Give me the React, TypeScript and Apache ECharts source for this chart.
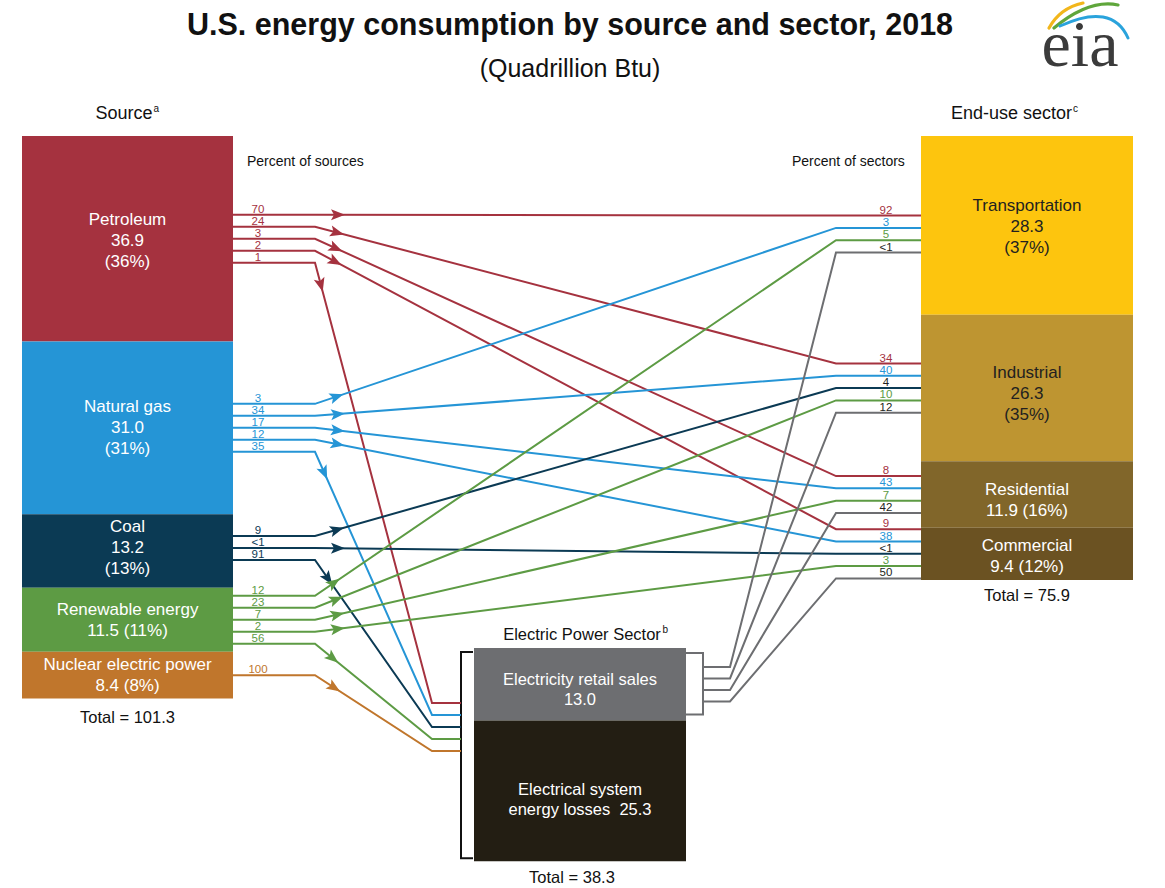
import { useEffect, useRef } from "react";
import * as echarts from "echarts";

// ---------------- data ----------------
const sources = ["Petroleum", "Natural gas", "Coal", "Renewable energy", "Nuclear electric power"];
const sourceValues = [36.9, 31.0, 13.2, 11.5, 8.4];
const sourceShares = [36, 31, 13, 11, 8];
const sourceColors = ["#a5323f", "#2595d6", "#0b3a54", "#5d9b44", "#c0762c"];
const sourceLabelColors = ["#a5323f", "#2595d6", "#0b3a54", "#5d9b44", "#c0762c"];
const sourceTotal = 101.3;

const sectors = ["Transportation", "Industrial", "Residential", "Commercial"];
const sectorValues = [28.3, 26.3, 11.9, 9.4];
const sectorShares = [37, 35, 16, 12];
const sectorColors = ["#fdc50e", "#be9531", "#81662a", "#6b5222"];
const sectorTextColors = ["#231f20", "#231f20", "#ffffff", "#ffffff"];
const sectorTotal = 75.9;

const electricParts = ["Electricity retail sales", "Electrical system\nenergy losses "];
const electricValues = [13.0, 25.3];
const electricColors = ["#6d6e71", "#231e13"];
const electricTotal = 38.3;
const ELECTRIC = "Electric power sector";
const electricLineColor = "#6d6e71";

// [from, to, percent of source, percent of sector]
const flows: [string, string, string, string][] = [
  ["Petroleum", "Transportation", "70", "92"],
  ["Petroleum", "Industrial", "24", "34"],
  ["Petroleum", "Residential", "3", "8"],
  ["Petroleum", "Commercial", "2", "9"],
  ["Petroleum", ELECTRIC, "1", ""],
  ["Natural gas", "Transportation", "3", "3"],
  ["Natural gas", "Industrial", "34", "40"],
  ["Natural gas", "Residential", "17", "43"],
  ["Natural gas", "Commercial", "12", "38"],
  ["Natural gas", ELECTRIC, "35", ""],
  ["Coal", "Industrial", "9", "4"],
  ["Coal", "Commercial", "<1", "<1"],
  ["Coal", ELECTRIC, "91", ""],
  ["Renewable energy", "Transportation", "12", "5"],
  ["Renewable energy", "Industrial", "23", "10"],
  ["Renewable energy", "Residential", "7", "7"],
  ["Renewable energy", "Commercial", "2", "3"],
  ["Renewable energy", ELECTRIC, "56", ""],
  ["Nuclear electric power", ELECTRIC, "100", ""],
  [ELECTRIC, "Transportation", "", "<1"],
  [ELECTRIC, "Industrial", "", "12"],
  [ELECTRIC, "Residential", "", "42"],
  [ELECTRIC, "Commercial", "", "50"],
];

const titleText = "U.S. energy consumption by source and sector, 2018";
const subtitleText = "(Quadrillion Btu)";

// ---------------- layout ----------------
const W = 1165;
const H = 888;
const SCALE = 5.57;
const SRC_X0 = 22, SRC_X1 = 233, PANEL_TOP = 136;
const SEC_X0 = 921, SEC_X1 = 1133, SEC_BOTTOM = 580;
const EL_X0 = 474, EL_X1 = 686, EL_TOP = 648;
const BEND_L = 315, BEND_R = 836, EL_IN_BEND = 432, EL_IN_X = 461, EL_OUT_X = 703, EL_OUT_BEND = 730;
const GAP_L = 12, GAP_R = 12.3, GAP_EL_IN = 12, GAP_EL_OUT = 11.5, EL_IN_CENTER = 727;
const ARROW_DIST = 30, ARROW_LEN = 14, ARROW_HALF = 5.5;
const LABEL_L_X = 258, LABEL_R_X = 886;
const SRC_TEXT_SHIFT = [2, 0, -3, 0, 0];
const SEC_TEXT_SHIFT = [1, 5, 5, 2];
const SRC_LINE_SHIFT = [0, 0, -3, 0, 0];
const SEC_LINE_SHIFT = [-2, 0, 0, 0];

const FONT = "'Liberation Sans', Arial, Helvetica, sans-serif";
const font = (size: number, weight = "normal") => `${weight} ${size}px ${FONT}`;

type Pt = [number, number];

function buildScene() {
  const els: any[] = [];
  const text = (x: number, y: number, t: string, opts: any = {}) =>
    els.push({ kind: "text", x, y, text: t, fill: opts.fill || "#111111", font: opts.font || font(16.5), align: opts.align || "center", lineHeight: opts.lineHeight || 20 });

  // title
  text(570, 24, titleText, { font: font(30.5, "bold"), fill: "#111111" });
  text(570, 68, subtitleText, { font: font(25), fill: "#111111" });

  // logo
  els.push({ kind: "curve", p0: [1049, 28], cp: [1060, 8], p1: [1083, 3], stroke: "#f2b61b", width: 3.2 });
  els.push({ kind: "curve", p0: [1054, 28], cp: [1089, -1], p1: [1118, 5], stroke: "#5fa63b", width: 3.2 });
  els.push({ kind: "curve", p0: [1060, 26], cp: [1112, 2], p1: [1128, 38], stroke: "#2aa3dc", width: 3 });
  els.push({ kind: "text", x: 1080, y: 43, text: "eia", fill: "#3b3b3b", font: `normal 66px 'Liberation Serif', 'DejaVu Serif', serif`, align: "center", lineHeight: 70 });

  // headers
  text(152.5, 113, "Source", { font: font(18), align: "right" });
  text(153.5, 108, "a", { font: font(10), align: "left" });
  text(1072, 113, "End-use sector", { font: font(18), align: "right" });
  text(1073, 108, "c", { font: font(10), align: "left" });
  text(247, 161, "Percent of sources", { font: font(14), align: "left" });
  text(792, 161, "Percent of sectors", { font: font(14), align: "left" });

  // source boxes
  const srcCenter: Record<string, number> = {};
  let y = PANEL_TOP;
  sources.forEach((name, i) => {
    const h = sourceValues[i] * SCALE;
    els.push({ kind: "rect", x0: SRC_X0, y0: y, x1: SRC_X1, y1: y + h, fill: sourceColors[i] });
    const v = sourceValues[i].toFixed(1);
    const label = h >= 70 ? `${name}\n${v}\n(${sourceShares[i]}%)` : `${name}\n${v} (${sourceShares[i]}%)`;
    text((SRC_X0 + SRC_X1) / 2, y + h / 2 + SRC_TEXT_SHIFT[i], label, { fill: "#ffffff", font: font(17), lineHeight: 21 });
    srcCenter[name] = y + h / 2 + SRC_LINE_SHIFT[i];
    y += h;
  });
  text((SRC_X0 + SRC_X1) / 2, y + 18, `Total = ${sourceTotal.toFixed(1)}`, { font: font(16.5) });

  // sector boxes (stacked from the bottom; top box fills to the panel top)
  const secCenter: Record<string, number> = {};
  let yb = SEC_BOTTOM;
  const secBoxes: { y0: number; y1: number }[] = [];
  for (let i = sectors.length - 1; i >= 0; i--) {
    const h = sectorValues[i] * SCALE;
    secBoxes[i] = { y0: i === 0 ? PANEL_TOP : yb - h, y1: yb };
    secCenter[sectors[i]] = yb - h / 2 + SEC_LINE_SHIFT[i];
    yb -= h;
  }
  sectors.forEach((name, i) => {
    const b = secBoxes[i];
    const h = b.y1 - b.y0;
    els.push({ kind: "rect", x0: SEC_X0, y0: b.y0, x1: SEC_X1, y1: b.y1, fill: sectorColors[i] });
    const v = sectorValues[i].toFixed(1);
    const label = h >= 70 ? `${name}\n${v}\n(${sectorShares[i]}%)` : `${name}\n${v} (${sectorShares[i]}%)`;
    text((SEC_X0 + SEC_X1) / 2, (b.y0 + b.y1) / 2 + SEC_TEXT_SHIFT[i], label, { fill: sectorTextColors[i], font: font(17), lineHeight: 21 });
  });
  text((SEC_X0 + SEC_X1) / 2, SEC_BOTTOM + 15, `Total = ${sectorTotal.toFixed(1)}`, { font: font(16.5) });

  // electric power sector
  let ye = EL_TOP;
  const elBoxes: { y0: number; y1: number }[] = [];
  electricParts.forEach((name, i) => {
    const h = electricValues[i] * SCALE;
    els.push({ kind: "rect", x0: EL_X0, y0: ye, x1: EL_X1, y1: ye + h, fill: electricColors[i] });
    elBoxes.push({ y0: ye, y1: ye + h });
    const twoLineName = name.includes("\n");
    const label = twoLineName ? `${name} ${electricValues[i].toFixed(1)}` : `${name}\n${electricValues[i].toFixed(1)}`;
    text((EL_X0 + EL_X1) / 2, ye + h / 2 + (i === 1 ? 8 : 5), label, { fill: "#ffffff", font: font(16.5), lineHeight: 20 });
    ye += h;
  });
  text(582, 634, "Electric Power Sector", { font: font(16.5), align: "center" });
  text(662.5, 629, "b", { font: font(10), align: "left" });
  text((EL_X0 + EL_X1) / 2 - 8, ye + 16, `Total = ${electricTotal.toFixed(1)}`, { font: font(16.5) });
  // brackets
  els.push({ kind: "poly", pts: [[EL_X0 - 1, EL_TOP + 4], [EL_IN_X, EL_TOP + 4], [EL_IN_X, ye - 3], [EL_X0 - 1, ye - 3]], stroke: "#111111", width: 2 });
  const retail = elBoxes[0];
  els.push({ kind: "poly", pts: [[EL_X1, retail.y0 + 5], [EL_OUT_X, retail.y0 + 5], [EL_OUT_X, retail.y1 - 6], [EL_X1, retail.y1 - 6]], stroke: electricLineColor, width: 2 });
  const retailCenter = (retail.y0 + retail.y1) / 2;

  // flow line end positions
  const outIdx: Record<string, number> = {};
  const outCount: Record<string, number> = {};
  const inIdx: Record<string, number> = {};
  const inCount: Record<string, number> = {};
  const posOut: number[] = [];
  const posIn: number[] = [];
  flows.forEach(([from, to]) => {
    outCount[from] = (outCount[from] || 0) + 1;
    inCount[to] = (inCount[to] || 0) + 1;
  });
  flows.forEach(([from, to], k) => {
    const oi = (outIdx[from] = (outIdx[from] ?? -1) + 1);
    const ii = (inIdx[to] = (inIdx[to] ?? -1) + 1);
    if (from === ELECTRIC) posOut[k] = retailCenter + (oi - (outCount[from] - 1) / 2) * GAP_EL_OUT;
    else posOut[k] = srcCenter[from] + (oi - (outCount[from] - 1) / 2) * GAP_L;
    if (to === ELECTRIC) posIn[k] = EL_IN_CENTER + (ii - (inCount[to] - 1) / 2) * GAP_EL_IN;
    else posIn[k] = secCenter[to] + (ii - (inCount[to] - 1) / 2) * GAP_R;
  });

  flows.forEach(([from, to, pSrc, pSec], k) => {
    const color = from === ELECTRIC ? electricLineColor : sourceColors[sources.indexOf(from)];
    const labelColor = from === ELECTRIC ? "#231f20" : sourceLabelColors[sources.indexOf(from)];
    const ys = posOut[k];
    const yt = posIn[k];
    let pts: Pt[];
    if (to === ELECTRIC) pts = [[SRC_X1, ys], [BEND_L, ys], [EL_IN_BEND, yt], [EL_IN_X, yt]];
    else if (from === ELECTRIC) pts = [[EL_OUT_X, ys], [EL_OUT_BEND, ys], [BEND_R, yt], [SEC_X0, yt]];
    else pts = [[SRC_X1, ys], [BEND_L, ys], [BEND_R, yt], [SEC_X0, yt]];
    els.push({ kind: "poly", pts, stroke: color, width: 2 });
    if (from !== ELECTRIC) {
      const [a, b] = [pts[1], pts[2]];
      const dx = b[0] - a[0], dy = b[1] - a[1];
      const len = Math.hypot(dx, dy);
      const ux = dx / len, uy = dy / len;
      const tip: Pt = [a[0] + ux * ARROW_DIST, a[1] + uy * ARROW_DIST];
      const base: Pt = [tip[0] - ux * ARROW_LEN, tip[1] - uy * ARROW_LEN];
      els.push({
        kind: "polygon",
        pts: [tip, [base[0] - uy * ARROW_HALF, base[1] + ux * ARROW_HALF], [base[0] + ux * 3, base[1] + uy * 3], [base[0] + uy * ARROW_HALF, base[1] - ux * ARROW_HALF]],
        fill: color,
      });
      if (pSrc) text(LABEL_L_X, ys - 6, pSrc, { fill: labelColor, font: font(11.5) });
    }
    if (to !== ELECTRIC && pSec) text(LABEL_R_X, yt - 6, pSec, { fill: from === ELECTRIC || from === "Coal" ? "#231f20" : labelColor, font: font(11.5) });
  });

  return els;
}

function toGraphic(el: any, c: (p: Pt) => number[]) {
  switch (el.kind) {
    case "rect": {
      const p0 = c([el.x0, el.y0]);
      const p1 = c([el.x1, el.y1]);
      return { type: "rect", shape: { x: p0[0], y: p0[1], width: p1[0] - p0[0], height: p1[1] - p0[1] }, style: { fill: el.fill } };
    }
    case "poly":
      return { type: "polyline", shape: { points: el.pts.map(c) }, style: { stroke: el.stroke, lineWidth: el.width, fill: null, lineJoin: "miter" } };
    case "polygon":
      return { type: "polygon", shape: { points: el.pts.map(c) }, style: { fill: el.fill } };
    case "curve": {
      const p0 = c(el.p0), cp = c(el.cp), p1 = c(el.p1);
      return { type: "bezierCurve", shape: { x1: p0[0], y1: p0[1], cpx1: cp[0], cpy1: cp[1], x2: p1[0], y2: p1[1] }, style: { stroke: el.stroke, lineWidth: el.width, fill: null, lineCap: "round" } };
    }
    case "text": {
      const p = c([el.x, el.y]);
      return {
        type: "text",
        x: p[0],
        y: p[1],
        style: { text: el.text, fill: el.fill, font: el.font, align: el.align, verticalAlign: "middle", textAlign: el.align, textVerticalAlign: "middle", lineHeight: el.lineHeight },
      };
    }
  }
  return null;
}

export default function App() {
  const ref = useRef<HTMLDivElement>(null);
  useEffect(() => {
    if (!ref.current) return;
    const chart = echarts.init(ref.current, undefined, { renderer: "svg" });
    const scene = buildScene();
    chart.setOption({
      animation: false,
      backgroundColor: "#ffffff",
      grid: { left: 0, right: 0, top: 0, bottom: 0 },
      xAxis: { type: "value", min: 0, max: W, show: false },
      yAxis: { type: "value", min: 0, max: H, inverse: true, show: false },
      series: [
        {
          type: "custom",
          silent: true,
          data: [[0, 0]],
          renderItem: (_params: any, api: any) => {
            const c = (p: Pt) => api.coord(p);
            return { type: "group", children: scene.map((e) => toGraphic(e, c)).filter(Boolean) };
          },
        },
      ],
    });
    return () => chart.dispose();
  }, []);
  return <div ref={ref} style={{ position: "absolute", left: 0, top: 0, width: W, height: H }} />;
}
